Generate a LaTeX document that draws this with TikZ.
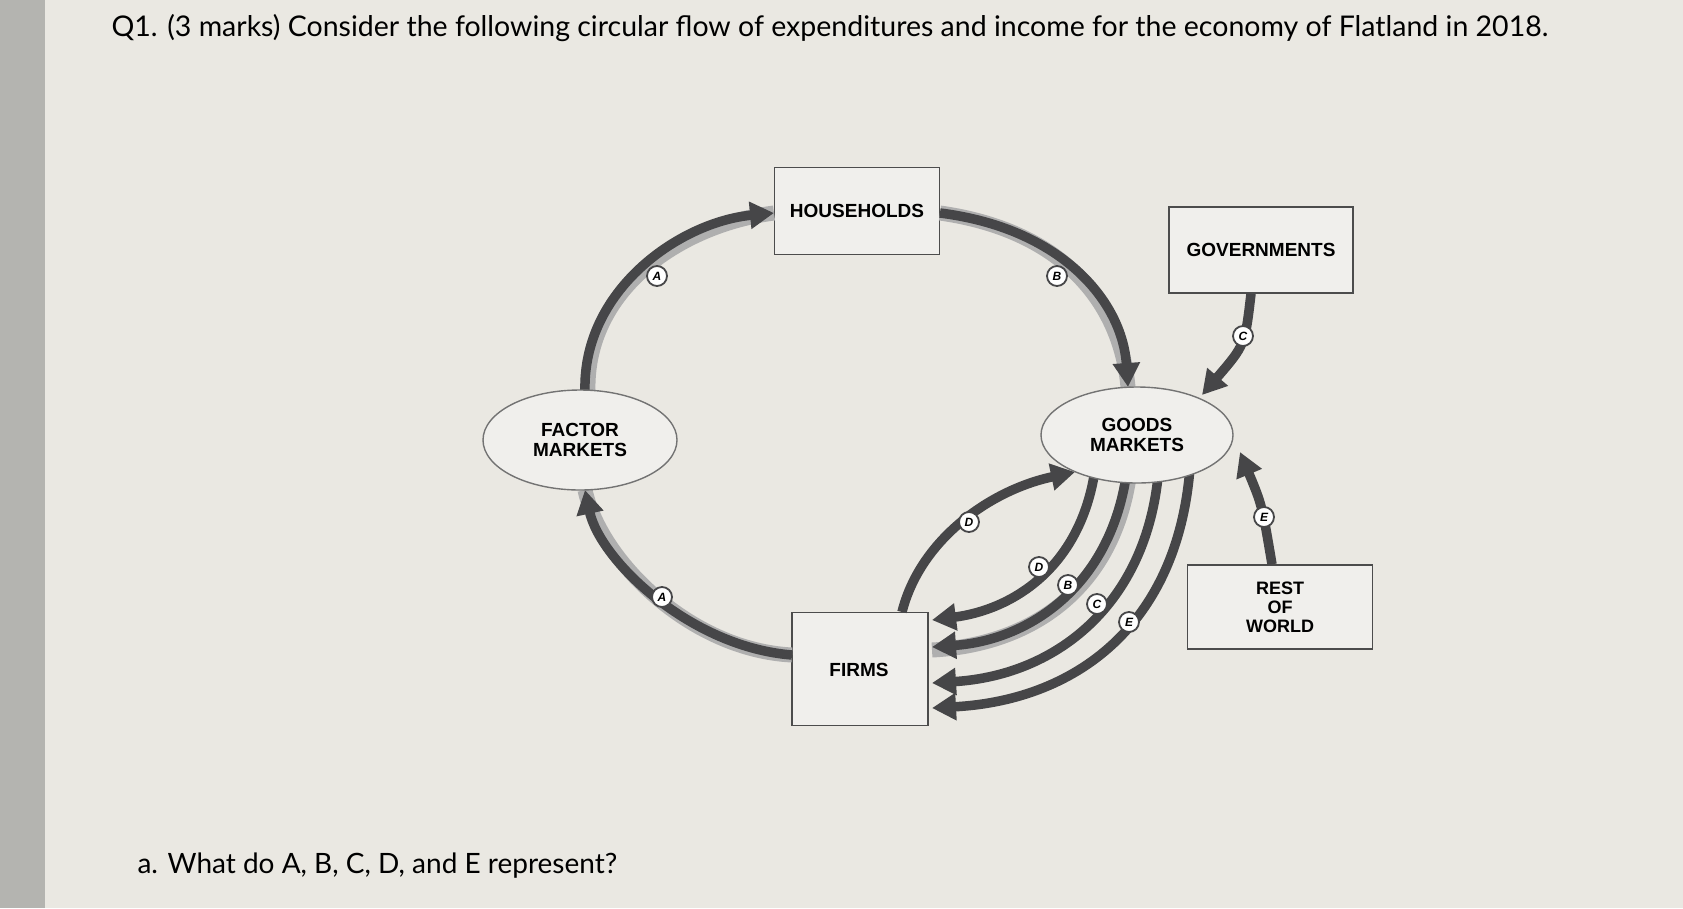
\documentclass[tikz,border=0pt]{standalone}
\usepackage{fontspec}
\setmainfont{Lato}
\newfontfamily\dfont{Liberation Sans}
\usetikzlibrary{arrows.meta,shapes.geometric}
\definecolor{bg}{RGB}{234,232,226}
\definecolor{strip}{RGB}{180,180,176}
\definecolor{flow}{RGB}{70,70,72}
\definecolor{shad}{RGB}{175,175,175}
\definecolor{boxfill}{RGB}{240,239,236}
\tikzset{
  box/.style={draw=black!70,line width=1.4pt,fill=boxfill,inner sep=0pt},
  oval/.style={ellipse,draw=black!55,line width=1.4pt,fill=boxfill,font=\dfont\bfseries\fontsize{19}{20}\selectfont,align=center},
  txt/.style={font=\dfont\bfseries\fontsize{19}{20}\selectfont,align=center},
  flowline/.style={draw=flow,line width=9.5pt,-{Triangle[length=24pt,width=26pt]}},
  shadow/.style={draw=shad,line width=15pt},
  lab/.style={circle,draw=flow,line width=1.8pt,fill=white,inner sep=0.5pt,minimum size=20pt,font=\dfont\bfseries\itshape\fontsize{12}{12}\selectfont},
}
\begin{document}
\begin{tikzpicture}[x=1pt,y=-1pt]
\fill[bg] (0,0) rectangle (1683,908);
\fill[strip] (0,0) rectangle (45,908);
\useasboundingbox (0,0) rectangle (1683,908);
\node[anchor=west,font=\fontsize{28.5}{32}\selectfont] (title) at (108,28) {Q1. (3 marks) Consider the following circular flow of expenditures and income for the economy of Flatland in 2018.};
\node[anchor=west,font=\fontsize{28}{32}\selectfont] (q) at (134,866) {a. What do A, B, C, D, and E represent?};

\node[box,minimum width=165pt,minimum height=87pt] (hh) at (857,211) {};
\node[box,minimum width=184pt,minimum height=86pt] (gov) at (1261,250) {};
\node[box,minimum width=136pt,minimum height=113pt] (firms) at (860,669) {};
\node[box,minimum width=185pt,minimum height=84pt] (row) at (1280,607) {};

% flows
\coordinate (a1s) at (588,392); \coordinate (a1e) at (774,213);
\coordinate (a2s) at (792,655); \coordinate (a2e) at (585,490);
\draw[shadow] (a1s) .. controls (585,290) and (680,225) .. (a1e);
\draw[flowline] ([xshift=-3pt]a1s) .. controls (582,290) and (680,222) .. (a1e);
\draw[shadow] (a2s) .. controls (690,650) and (600,560) .. (a2e);
\draw[flowline] (a2s) .. controls (690,647) and (600,560) .. (a2e);
\draw[shadow] (940,213) .. controls (1060,230) and (1120,300) .. (1128,387);
\draw[flowline] (940,213) .. controls (1060,228) and (1122,300) .. (1128,387);
\draw[flowline] (gov.south) ++(-10,0) coordinate (cs) (cs) .. controls (1245,345) .. (1202,395);
\draw[flowline] (row.north) ++(-8,0) coordinate (es) (es) .. controls (1262,505) .. (1240,452);
\draw[flowline] (902,612) .. controls (920,540) and (990,490) .. (1075,472);
\draw[flowline] (1095,470) .. controls (1080,570) and (1010,610) .. (932,620);
\draw[shadow] (1130,470) .. controls (1115,590) and (1030,645) .. (932,650);
\draw[flowline] (1127,470) .. controls (1112,585) and (1030,640) .. (932,647);
\draw[flowline] (1159,465) .. controls (1150,600) and (1060,675) .. (932,683);
\draw[flowline] (1191,450) .. controls (1185,620) and (1080,700) .. (932,708);

\node[oval,minimum width=194pt,minimum height=100pt] (fm) at (580,440) {FACTOR\\MARKETS};
\node[oval,minimum width=192pt,minimum height=96pt] (gm) at (1137,435) {GOODS\\MARKETS};

\node[txt] (hhl) at (hh) {HOUSEHOLDS};
\node[txt] (govl) at (gov) {GOVERNMENTS};
\node[txt] (fl) at (859,670) {FIRMS};
\node[txt,font=\dfont\bfseries\fontsize{18}{19}\selectfont] (rl) at (row) {REST\\OF\\WORLD};

\node[lab] (la1) at (657,276) {A};
\node[lab] (la2) at (662,597) {A};
\node[lab] (lb1) at (1057,276) {B};
\node[lab] (lc1) at (1243,336) {C};
\node[lab] (le1) at (1264,517) {E};
\node[lab] (ld1) at (969,522) {D};
\node[lab] (ld2) at (1039,567) {D};
\node[lab] (lb2) at (1068,585) {B};
\node[lab] (lc2) at (1097,604) {C};
\node[lab] (le2) at (1129,622) {E};
\end{tikzpicture}
\end{document}
